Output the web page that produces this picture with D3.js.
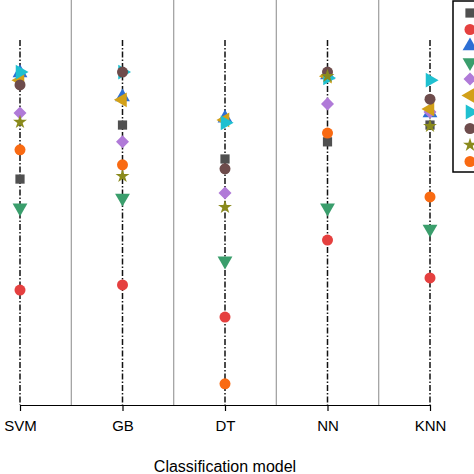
<!DOCTYPE html>
<html><head><meta charset="utf-8">
<script src="https://cdn.jsdelivr.net/npm/d3@7"></script>
<style>body{margin:0;background:#fff}svg{font-family:"Liberation Sans",Arial,sans-serif}</style>
</head><body><svg id="c" width="474" height="474"></svg>
<script>
const models = ["SVM", "GB", "DT", "NN", "KNN"];
// scores per series, one per model
const square   = [61.9, 76.7, 67.4, 72.1, 76.7];
const circle   = [31.5, 32.9, 24.1, 45.2, 34.8];
const triUp    = [91.0, 84.4, 78.6, 90.4, 80.0];
const triDown  = [54.0, 56.7, 39.5, 54.0, 48.2];
const diamond  = [80.0, 72.1, 58.1, 82.5, 80.3];
const triLeft  = [89.0, 83.6, 78.1, 90.1, 81.1];
const triRight = [91.2, 91.2, 77.3, 89.6, 89.0];
const hexagon  = [87.7, 91.2, 64.7, 91.2, 83.8];
const star     = [77.5, 62.7, 54.2, 90.1, 76.4];
const pentagon = [69.9, 65.8, 5.8, 74.5, 57.0];

const series = [
  {vals: square,   shape: d3.symbolSquare,  rot: 0,   size: 85, color: "#505050"},
  {vals: circle,   shape: d3.symbolCircle,  rot: 0,   size: 95, color: "#e5403f"},
  {vals: triUp,    shape: d3.symbolTriangle,rot: 0,   size: 95, color: "#2d6fd4"},
  {vals: triDown,  shape: d3.symbolTriangle,rot: 180, size: 95, color: "#3a9e6c"},
  {vals: diamond,  shape: d3.symbolSquare,  rot: 45,  size: 85, color: "#b07ad8"},
  {vals: triLeft,  shape: d3.symbolTriangle,rot: -90, size: 95, color: "#d2a018"},
  {vals: triRight, shape: d3.symbolTriangle,rot: 90,  size: 95, color: "#1fc0d0"},
  {vals: hexagon,  shape: d3.symbolCircle,  rot: 0,   size: 95, color: "#6e4c4c"},
  {vals: star,     shape: d3.symbolStar,    rot: 0,   size: 60, color: "#8a8a1c"},
  {vals: pentagon, shape: d3.symbolCircle,  rot: 0,   size: 95, color: "#f96a12"}
];

const width = 474, height = 474;
const margin = {top: 40, bottom: 69};
const svg = d3.select("#c");

const x = d3.scalePoint().domain(models).range([20, 430]);
const y = d3.scaleLinear().domain([0, 100]).range([height - margin.bottom, margin.top]);
const step = x.step();

// gray separators
svg.append("g").selectAll("line").data(models.slice(1)).join("line")
  .attr("x1", d => x(d) - step / 2).attr("x2", d => x(d) - step / 2)
  .attr("y1", 0).attr("y2", y(0))
  .attr("stroke", "#888").attr("stroke-width", 1);

// dash-dot model lines
svg.append("g").selectAll("line").data(models).join("line")
  .attr("x1", d => x(d)).attr("x2", d => x(d))
  .attr("y1", y(100)).attr("y2", y(0))
  .attr("stroke", "#111").attr("stroke-width", 1.5)
  .attr("stroke-dasharray", "6,2,1.5,2");

// markers
series.forEach(s => {
  svg.append("g").selectAll("path").data(s.vals).join("path")
    .attr("d", d3.symbol().type(s.shape).size(s.size))
    .attr("transform", (d, i) => `translate(${x(models[i])},${y(d)}) rotate(${s.rot})`)
    .attr("fill", s.color);
});

// x axis
svg.append("g")
  .attr("transform", `translate(0,${y(0)})`)
  .call(d3.axisBottom(x).tickSize(6).tickSizeOuter(0))
  .call(g => g.select(".domain").attr("stroke", "#000").attr("stroke-width", 1.2))
  .call(g => g.selectAll(".tick line").attr("stroke-width", 1.2))
  .call(g => g.selectAll(".tick text").attr("font-size", 15).attr("fill", "#000")
    .attr("dy", "1.1em").attr("font-family", "Liberation Sans, Arial"));

svg.append("text").attr("x", 225).attr("y", 472)
  .attr("text-anchor", "middle").attr("font-size", 16).text("Classification model");

// legend (cropped at right edge)
const lg = svg.append("g").attr("transform", "translate(453,1)");
lg.append("rect").attr("width", 40).attr("height", 171)
  .attr("fill", "#fff").attr("stroke", "#000").attr("stroke-width", 1.5);
series.forEach((s, i) => {
  lg.append("path")
    .attr("d", d3.symbol().type(s.shape).size(s.size))
    .attr("transform", `translate(17,${12 + i * 16.5}) rotate(${s.rot})`)
    .attr("fill", s.color);
});
</script></body></html>
